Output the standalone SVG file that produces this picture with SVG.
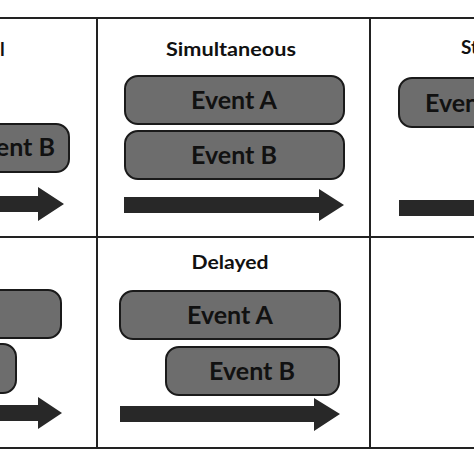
<svg xmlns="http://www.w3.org/2000/svg" width="474" height="474" viewBox="0 0 474 474">
<style>
.ev{fill:#6d6d6d;stroke:#1a1a1a;stroke-width:2}
.et{font-family:Lato,"Open Sans","Liberation Sans",sans-serif;font-size:24px;font-weight:bold;fill:#111;text-anchor:middle}
.tt{font-family:Lato,"Open Sans","Liberation Sans",sans-serif;font-size:19px;font-weight:bold;fill:#111;text-anchor:middle}
.ar{fill:#282828}
.grid{stroke:#222;stroke-width:2;fill:none}
</style>
<rect width="474" height="474" fill="#fff"/>
<g id="grid">
<line class="grid" x1="0" y1="18" x2="474" y2="18"/>
<line class="grid" x1="0" y1="237" x2="474" y2="237"/>
<line class="grid" x1="0" y1="448" x2="474" y2="448"/>
<line class="grid" x1="97" y1="18" x2="97" y2="448"/>
<line class="grid" x1="370" y1="18" x2="370" y2="448"/>
</g>
<g id="titles">
<text class="tt" x="0" y="56" style="text-anchor:start">l</text>
<text class="tt" x="231" y="56" textLength="130" lengthAdjust="spacingAndGlyphs">Simultaneous</text>
<text class="tt" x="461" y="54" style="text-anchor:start">St</text>
<text class="tt" x="230" y="269" textLength="77" lengthAdjust="spacingAndGlyphs">Delayed</text>
</g>
<g id="tl-eventB">
<rect class="ev" x="-45" y="124" width="114" height="48" rx="13"/>
<text class="et" x="12" y="156" textLength="86" lengthAdjust="spacingAndGlyphs">Event B</text>
</g>
<g id="tm-eventA">
<rect class="ev" x="125" y="76" width="219" height="48" rx="13"/>
<text class="et" x="234" y="109" textLength="86" lengthAdjust="spacingAndGlyphs">Event A</text>
</g>
<g id="tm-eventB">
<rect class="ev" x="125" y="131" width="219" height="48" rx="13"/>
<text class="et" x="234" y="164" textLength="86" lengthAdjust="spacingAndGlyphs">Event B</text>
</g>
<g id="tr-eventA">
<rect class="ev" x="399" y="78" width="110" height="49" rx="13"/>
<text class="et" x="425" y="112" style="text-anchor:start" textLength="86" lengthAdjust="spacingAndGlyphs">Event A</text>
</g>
<g id="bl-eventA">
<rect class="ev" x="-60" y="290" width="121" height="48" rx="13"/>
</g>
<g id="bl-eventB">
<rect class="ev" x="-60" y="344" width="76" height="49" rx="13"/>
</g>
<g id="bm-eventA">
<rect class="ev" x="120" y="291" width="220" height="48" rx="13"/>
<text class="et" x="230" y="324" textLength="86" lengthAdjust="spacingAndGlyphs">Event A</text>
</g>
<g id="bm-eventB">
<rect class="ev" x="166" y="347" width="173" height="48" rx="13"/>
<text class="et" x="252" y="380" textLength="86" lengthAdjust="spacingAndGlyphs">Event B</text>
</g>
<g id="connectors">
<polygon class="ar" points="-10,196 38,196 38,187 64,204 38,221 38,212 -10,212"/>
<polygon class="ar" points="124,197 319,197 319,189 344,205 319,221 319,213 124,213"/>
<rect class="ar" x="399" y="200" width="80" height="16"/>
<polygon class="ar" points="-10,405 38,405 38,397 62,413 38,429 38,421 -10,421"/>
<polygon class="ar" points="120,406 314,406 314,398 340,414 314,431 314,422 120,422"/>
</g>
</svg>
